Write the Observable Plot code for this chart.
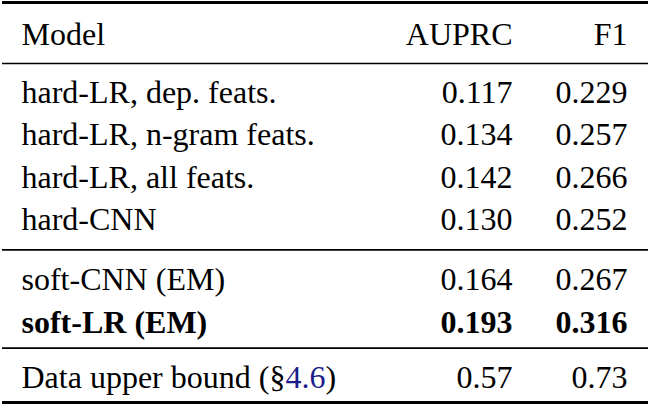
<!DOCTYPE html>
<html><head><meta charset="utf-8">
<script src="https://cdn.jsdelivr.net/npm/d3@7"></script>
<script src="https://cdn.jsdelivr.net/npm/@observablehq/plot@0.6"></script>
<style>html,body{margin:0;padding:0;background:#fff;}</style>
</head><body><div id="chart"></div>
<script>
// ---- data ----
const headers = ["Model", "AUPRC", "F1"];
const models = ["hard-LR, dep. feats.", "hard-LR, n-gram feats.", "hard-LR, all feats.", "hard-CNN",
                "soft-CNN (EM)", "soft-LR (EM)", "Data upper bound (§4.6)"];
const auprc = [0.117, 0.134, 0.142, 0.130, 0.164, 0.193, 0.57];
const f1 = [0.229, 0.257, 0.266, 0.252, 0.267, 0.316, 0.73];
const decimals = [3, 3, 3, 3, 3, 3, 2];
const groups = [0, 0, 0, 0, 1, 1, 2];
const bold = [false, false, false, false, false, true, false];
const refLink = "4.6";

// ---- layout ----
const W = 652, H = 404;
const FONT = "Times New Roman", SIZE = 32;
const colX = {model: 21, auprc: 512, f1: 627};
const headerY = 44, firstY = 102, rowH = 42.6;
const groupGap = [0, 17, 13];
const cumGap = g => d3.sum(groupGap.slice(0, g + 1));
const rowY = i => firstY + i * rowH + cumGap(groups[i]);

// text width (for splitting the coloured reference)
const ctx = document.createElement("canvas").getContext("2d");
ctx.font = `${SIZE}px "${FONT}", serif`;
const tw = s => ctx.measureText(s).width;

// cells
const left = [], right = [], leftBold = [], rightBold = [], blue = [];
left.push({t: headers[0], x: colX.model, y: headerY});
right.push({t: headers[1], x: colX.auprc, y: headerY}, {t: headers[2], x: colX.f1, y: headerY});
models.forEach((m, i) => {
  const y = rowY(i);
  const L = bold[i] ? leftBold : left, R = bold[i] ? rightBold : right;
  if (m.includes("§" + refLink)) {
    const [pre, post] = m.split(refLink);
    L.push({t: pre, x: colX.model, y});
    blue.push({t: refLink, x: colX.model + tw(pre), y});
    L.push({t: post, x: colX.model + tw(pre) + tw(refLink), y});
  } else {
    L.push({t: m, x: colX.model, y});
  }
  R.push({t: auprc[i].toFixed(decimals[i]), x: colX.auprc, y});
  R.push({t: f1[i].toFixed(decimals[i]), x: colX.f1, y});
});
const thick = [{y: 2}, {y: 402}];
const thin = [{y: 63}, ...d3.range(1, 3).map(g => ({y: rowY(groups.indexOf(g)) - 40}))];

const txt = (data, anchor, extra = {}) =>
  Plot.text(data, {x: "x", y: "y", text: "t", textAnchor: anchor, fontFamily: FONT, fontSize: SIZE, lineAnchor: "bottom", ...extra});

const chart = Plot.plot({
  width: W, height: H,
  margin: 0,
  x: {domain: [0, W], range: [0, W], axis: null},
  y: {domain: [0, H], range: [0, H], axis: null},
  marks: [
    Plot.ruleY(thick, {y: "y", x1: 2, x2: 648, stroke: "#000", strokeWidth: 3}),
    Plot.ruleY(thin, {y: "y", x1: 2, x2: 648, stroke: "#000", strokeWidth: 1.7}),
    txt(left, "start"),
    txt(right, "end"),
    txt(leftBold, "start", {fontWeight: "bold"}),
    txt(rightBold, "end", {fontWeight: "bold"}),
    txt(blue, "start", {fill: "#1c1c8a"})
  ]
});
document.getElementById("chart").appendChild(chart);
</script>
</body></html>
